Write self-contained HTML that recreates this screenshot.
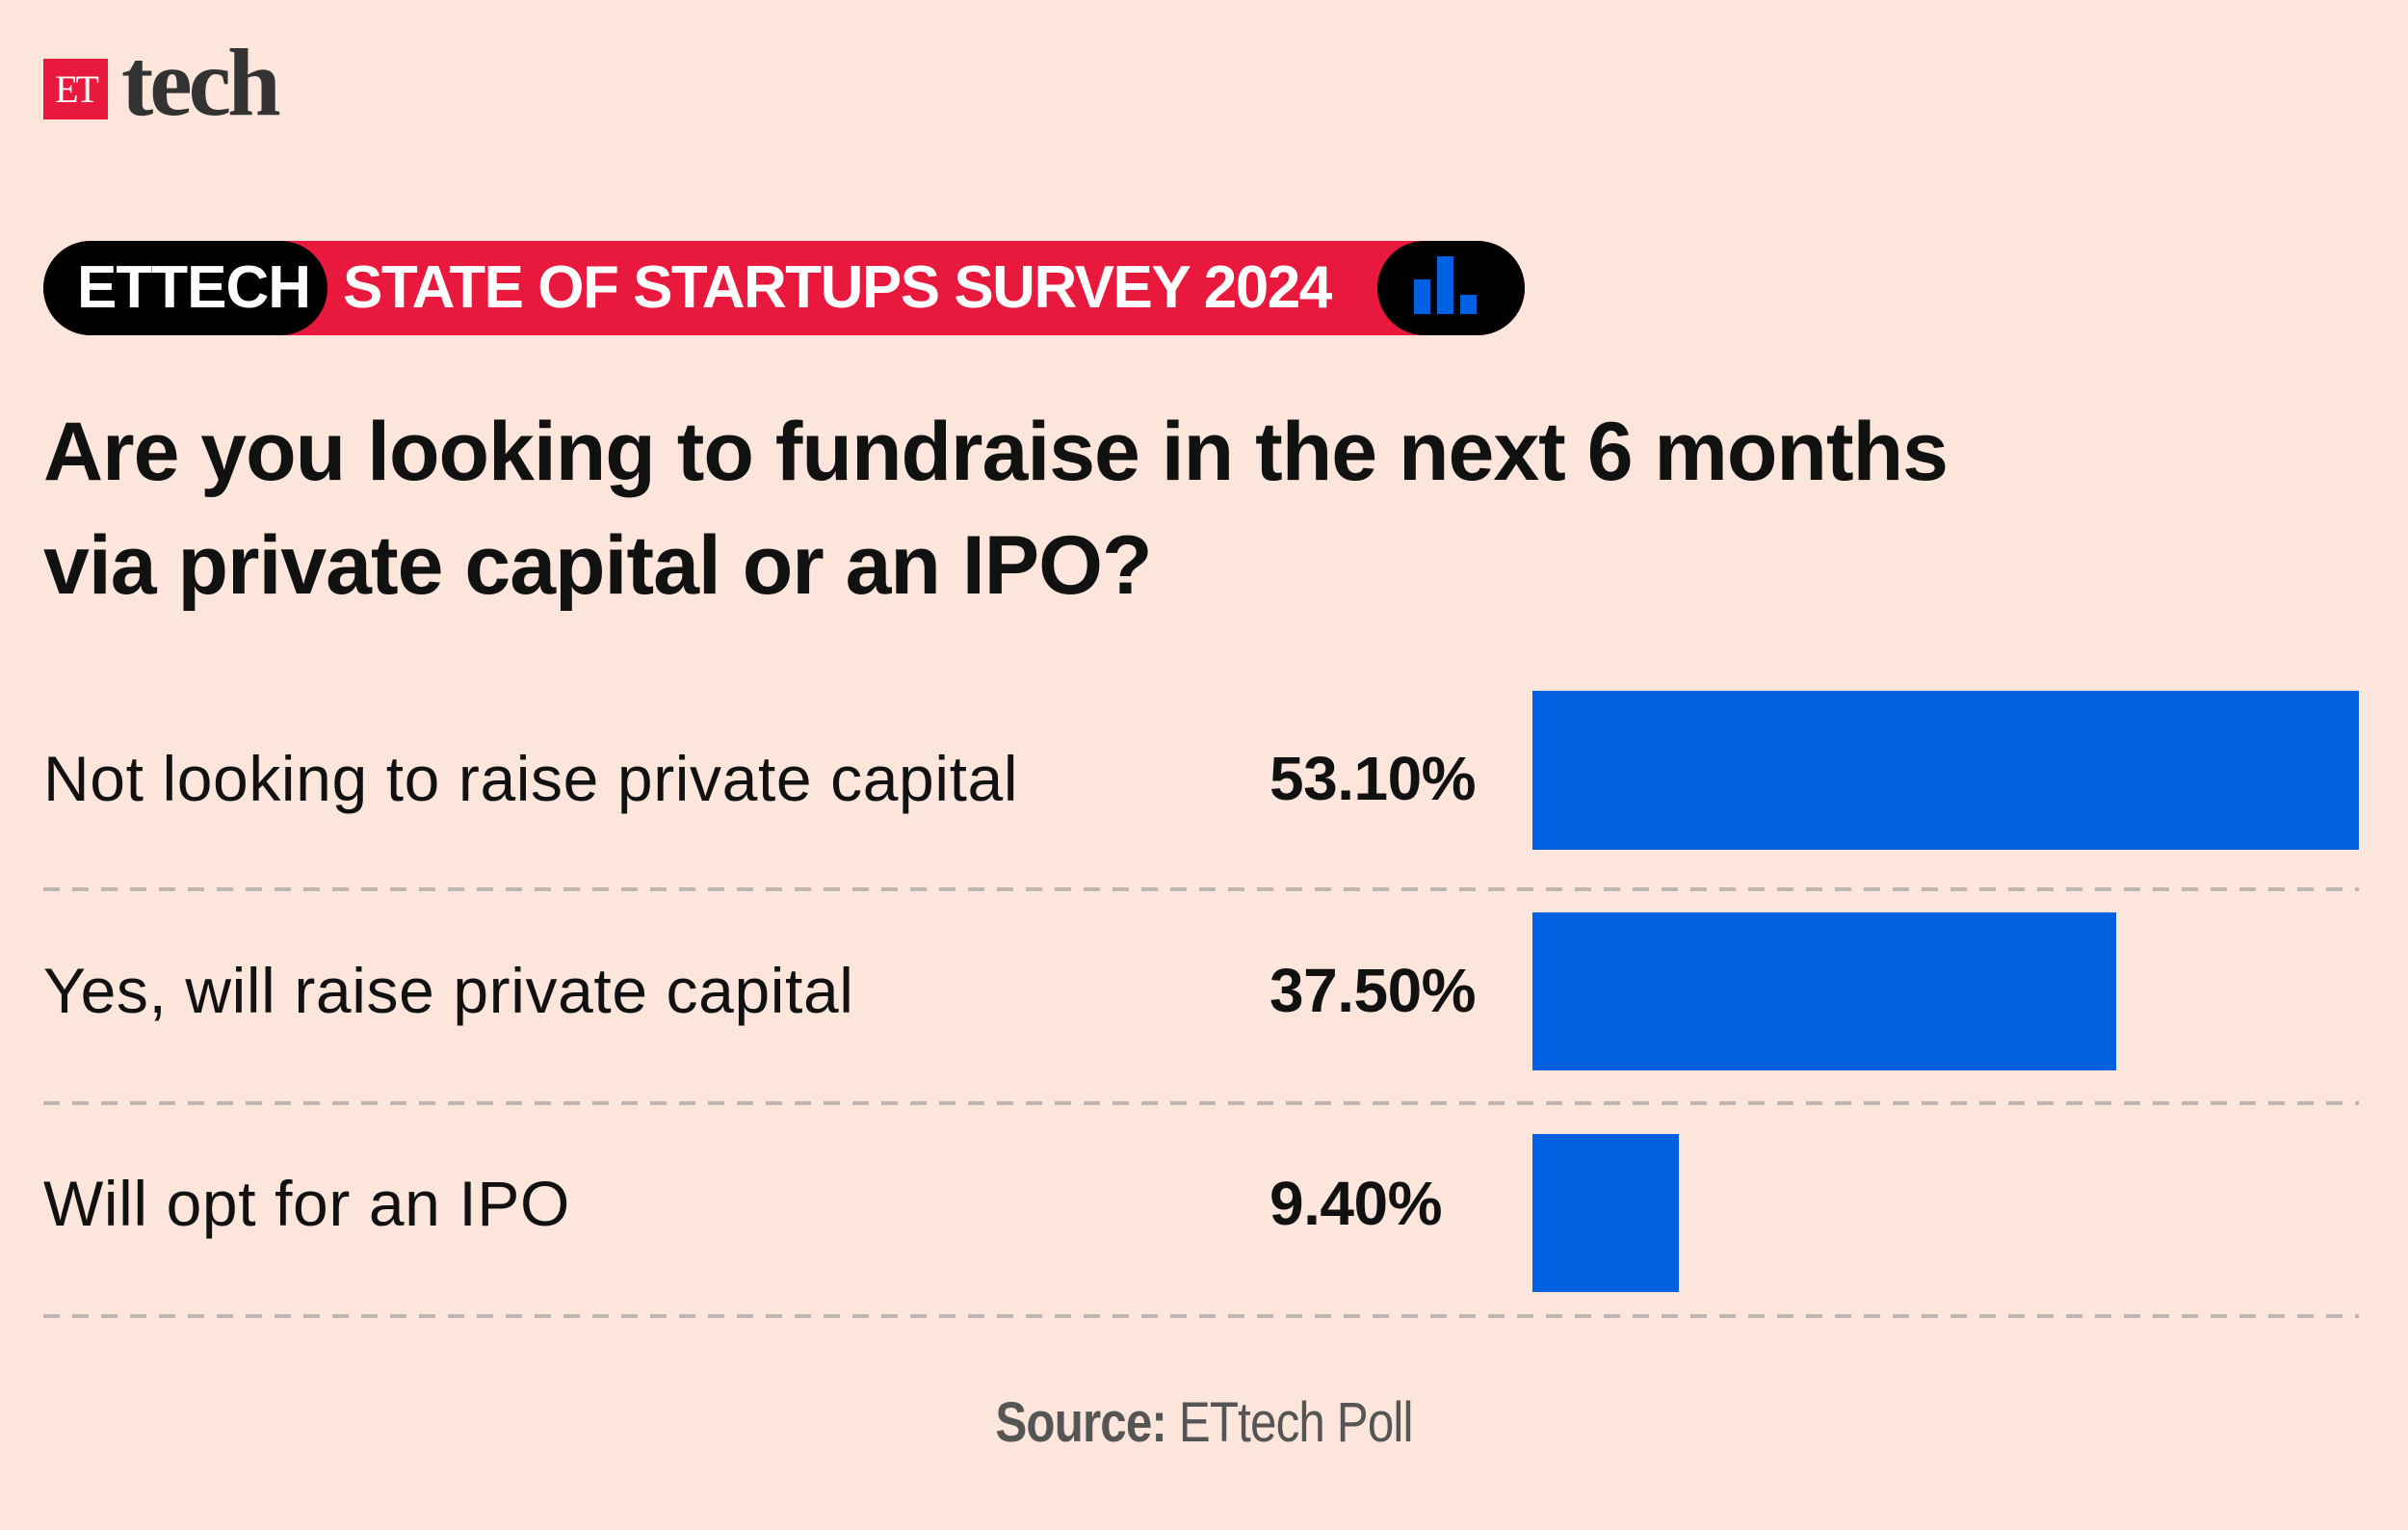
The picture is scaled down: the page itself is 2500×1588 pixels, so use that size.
<!DOCTYPE html>
<html><head><style>
body{margin:0;width:2500px;height:1588px;background:#fce6dc;position:relative;overflow:hidden;font-family:"Liberation Sans",sans-serif}
.a{position:absolute;white-space:nowrap}
.lab{font-size:66px;color:#111;left:45px;letter-spacing:0.6px}
.pct{font-size:64px;font-weight:bold;color:#111;left:1318px;letter-spacing:-0.5px}
.bar{position:absolute;left:1591px;background:#0060df}
.dash{position:absolute;left:45px;width:2404px;height:4px;background:repeating-linear-gradient(90deg,#bdb6b2 0 17px,transparent 17px 30px)}
</style></head><body>
<div class="a" style="left:45px;top:61px;width:67px;height:63px;background:#e8193c;color:#fff;font-family:'Liberation Serif',serif;font-size:40px;line-height:63px;text-align:center;letter-spacing:-3px">ET</div>
<div class="a" style="left:126px;top:36px;font-family:'Liberation Serif',serif;font-size:100px;font-weight:bold;color:#333;letter-spacing:-4px;line-height:100px">tech</div>

<div class="a" style="left:45px;top:250px;width:1538px;height:98px;border-radius:49px;background:#e8193c"></div>
<div class="a" style="left:45px;top:250px;width:295px;height:98px;border-radius:49px;background:#000"></div>
<div class="a" style="left:1430px;top:250px;width:153px;height:98px;border-radius:49px;background:#000"></div>
<div class="a" style="left:80px;top:262px;font-size:62px;font-weight:bold;color:#fff;line-height:74px;letter-spacing:-1px">ETTECH</div>
<div class="a" style="left:356px;top:262px;font-size:62px;font-weight:bold;color:#fff;line-height:74px;letter-spacing:-1.5px">STATE OF STARTUPS SURVEY 2024</div>
<div class="a" style="left:1468px;top:290px;width:17px;height:36px;background:#0060df"></div>
<div class="a" style="left:1492px;top:266px;width:17px;height:60px;background:#0060df"></div>
<div class="a" style="left:1516px;top:306px;width:17px;height:20px;background:#0060df"></div>

<div class="a" style="left:45px;top:410px;font-size:86px;font-weight:bold;color:#111;line-height:118px;letter-spacing:-1px">Are you looking to fundraise in the next 6 months<br>via private capital or an IPO?</div>

<div class="bar" style="top:717px;width:858px;height:165px"></div>
<div class="bar" style="top:947px;width:606px;height:164px"></div>
<div class="bar" style="top:1177px;width:152px;height:164px"></div>
<div class="dash" style="top:921px"></div>
<div class="dash" style="top:1143px"></div>
<div class="dash" style="top:1364px"></div>

<div class="a lab" style="top:770px">Not looking to raise private capital</div>
<div class="a pct" style="top:771px">53.10%</div>
<div class="a lab" style="top:990px">Yes, will raise private capital</div>
<div class="a pct" style="top:991px">37.50%</div>
<div class="a lab" style="top:1211px">Will opt for an IPO</div>
<div class="a pct" style="top:1212px">9.40%</div>

<div class="a" style="left:0;width:2500px;text-align:center;top:1443px;font-size:58px;color:#555;transform:scaleX(0.85);letter-spacing:-1px"><b>Source:</b> ETtech Poll</div>
</body></html>
